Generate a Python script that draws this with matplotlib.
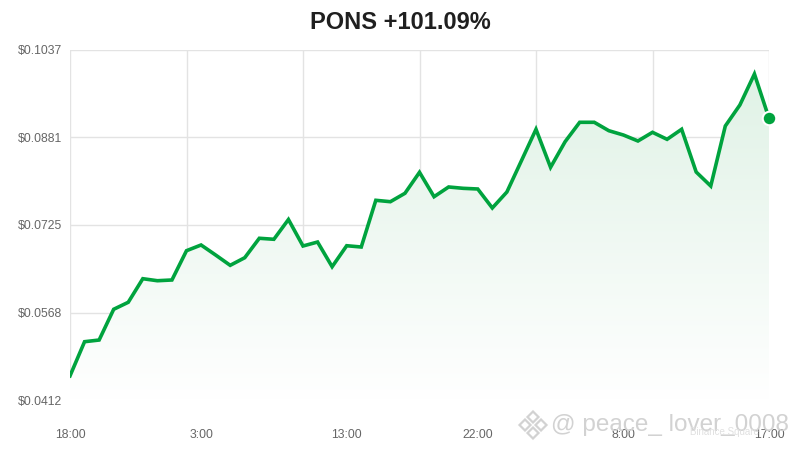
"""
PONS price chart -- hourly line with gradient fill
"""

import matplotlib
matplotlib.use("Agg")
import matplotlib.pyplot as plt
from matplotlib.patches import Polygon, RegularPolygon
from matplotlib.colors import LinearSegmentedColormap
import numpy as np

plt.rcParams["font.family"] = ["Liberation Sans", "DejaVu Sans"]

# ── Data ──────────────────────────────────────────────────────────────────────
prices = [
    0.04551, 0.05161, 0.05191, 0.05740, 0.05865, 0.06286, 0.06250, 0.06263,
    0.06786, 0.06888, 0.06709, 0.06525, 0.06661, 0.07008, 0.06990, 0.07343,
    0.06870, 0.06941, 0.06500, 0.06875, 0.06852, 0.07686, 0.07661, 0.07811,
    0.08186, 0.07750, 0.07924, 0.07900, 0.07888, 0.07549, 0.07834, 0.08393,
    0.08954, 0.08275, 0.08733, 0.09079, 0.09079, 0.08929, 0.08852, 0.08745,
    0.08900, 0.08775, 0.08954, 0.08191, 0.07941, 0.09013, 0.09388, 0.09941,
    0.09151,
]
y_ticks = [0.0412, 0.0568, 0.0725, 0.0881, 0.1037]
x_labels = ["18:00", "3:00", "13:00", "22:00", "8:00", "17:00"]
x_label_pos = [0, 9, 19, 28, 38, 48]
title = "PONS +101.09%"

# ── Palette ───────────────────────────────────────────────────────────────────
C_LINE = "#00a33e"
C_GRID = "#e3e3e3"
C_TICK = "#666666"
C_TITLE = "#1f1f1f"
C_WM = "#d2d2d2"

# ── Canvas ────────────────────────────────────────────────────────────────────
fig = plt.figure(figsize=(8, 4.5), dpi=100, facecolor="white")
ax = fig.add_axes([0.0875, 0.1111, 0.87375, 0.7778])
x = np.arange(len(prices))
ymin, ymax = y_ticks[0], y_ticks[-1]
xmax = len(prices) - 1

# grid
for gx in np.linspace(0, xmax, 7):
    ax.axvline(gx, color=C_GRID, lw=1.0, zorder=0)
for gy in y_ticks:
    ax.axhline(gy, color=C_GRID, lw=1.0, zorder=0)

# gradient fill under the line
grad = np.linspace(0, 1, 256).reshape(-1, 1)
cmap = LinearSegmentedColormap.from_list("g", ["#ffffff", "#e0f2e6"])
img = ax.imshow(grad, extent=[0, xmax, ymin, max(prices)],
                origin="lower", aspect="auto", cmap=cmap, zorder=1)
verts = list(zip(x, prices)) + [(xmax, ymin), (0, ymin)]
clip = Polygon(verts, closed=True, transform=ax.transData, fc="none", ec="none")
ax.add_patch(clip)
img.set_clip_path(clip)
ax.set_xlim(0, xmax)
ax.set_ylim(ymin, ymax)

ax.plot(x, prices, color=C_LINE, lw=2.6, solid_joinstyle="miter", zorder=3)
ax.scatter([x[-1]], [prices[-1]], s=95, color=C_LINE, edgecolor="white",
           linewidth=1.5, zorder=4, clip_on=False)

# ticks
ax.set_yticks(y_ticks)
ax.set_yticklabels([f"${v:.4f}" for v in y_ticks])
ax.set_xticks(x_label_pos)
ax.set_xticklabels(x_labels)
ax.tick_params(axis="both", length=0, labelsize=8.8, labelcolor=C_TICK)
ax.tick_params(axis="x", pad=21)
ax.tick_params(axis="y", pad=6)
for s in ax.spines.values():
    s.set_visible(False)

# title
fig.text(0.5, 0.949, title, ha="center", va="center",
         fontsize=17, fontweight="bold", color=C_TITLE)

# ── Watermark ─────────────────────────────────────────────────────────────────
fig.text(0.689, 0.056, "@ peace_ lover_0008", ha="left", va="center",
         fontsize=17.5, color=C_WM)
fig.text(0.862, 0.040, "Binance Square", ha="left", va="center",
         fontsize=7, color="#e0e0e0")
# little diamond logo (pixel coords from bottom-left)
lx, ly = 533, 25
for dx, dy, r in [(0, 8, 5.5), (-8, 0, 5.5), (8, 0, 5.5), (0, -8, 5.5)]:
    d = RegularPolygon((lx + dx, ly + dy), 4, radius=r, orientation=0,
                       transform=None, fc="none", ec=C_WM, lw=1.6)
    fig.patches.append(d)

fig.savefig("out.png", dpi=100, facecolor="white")
